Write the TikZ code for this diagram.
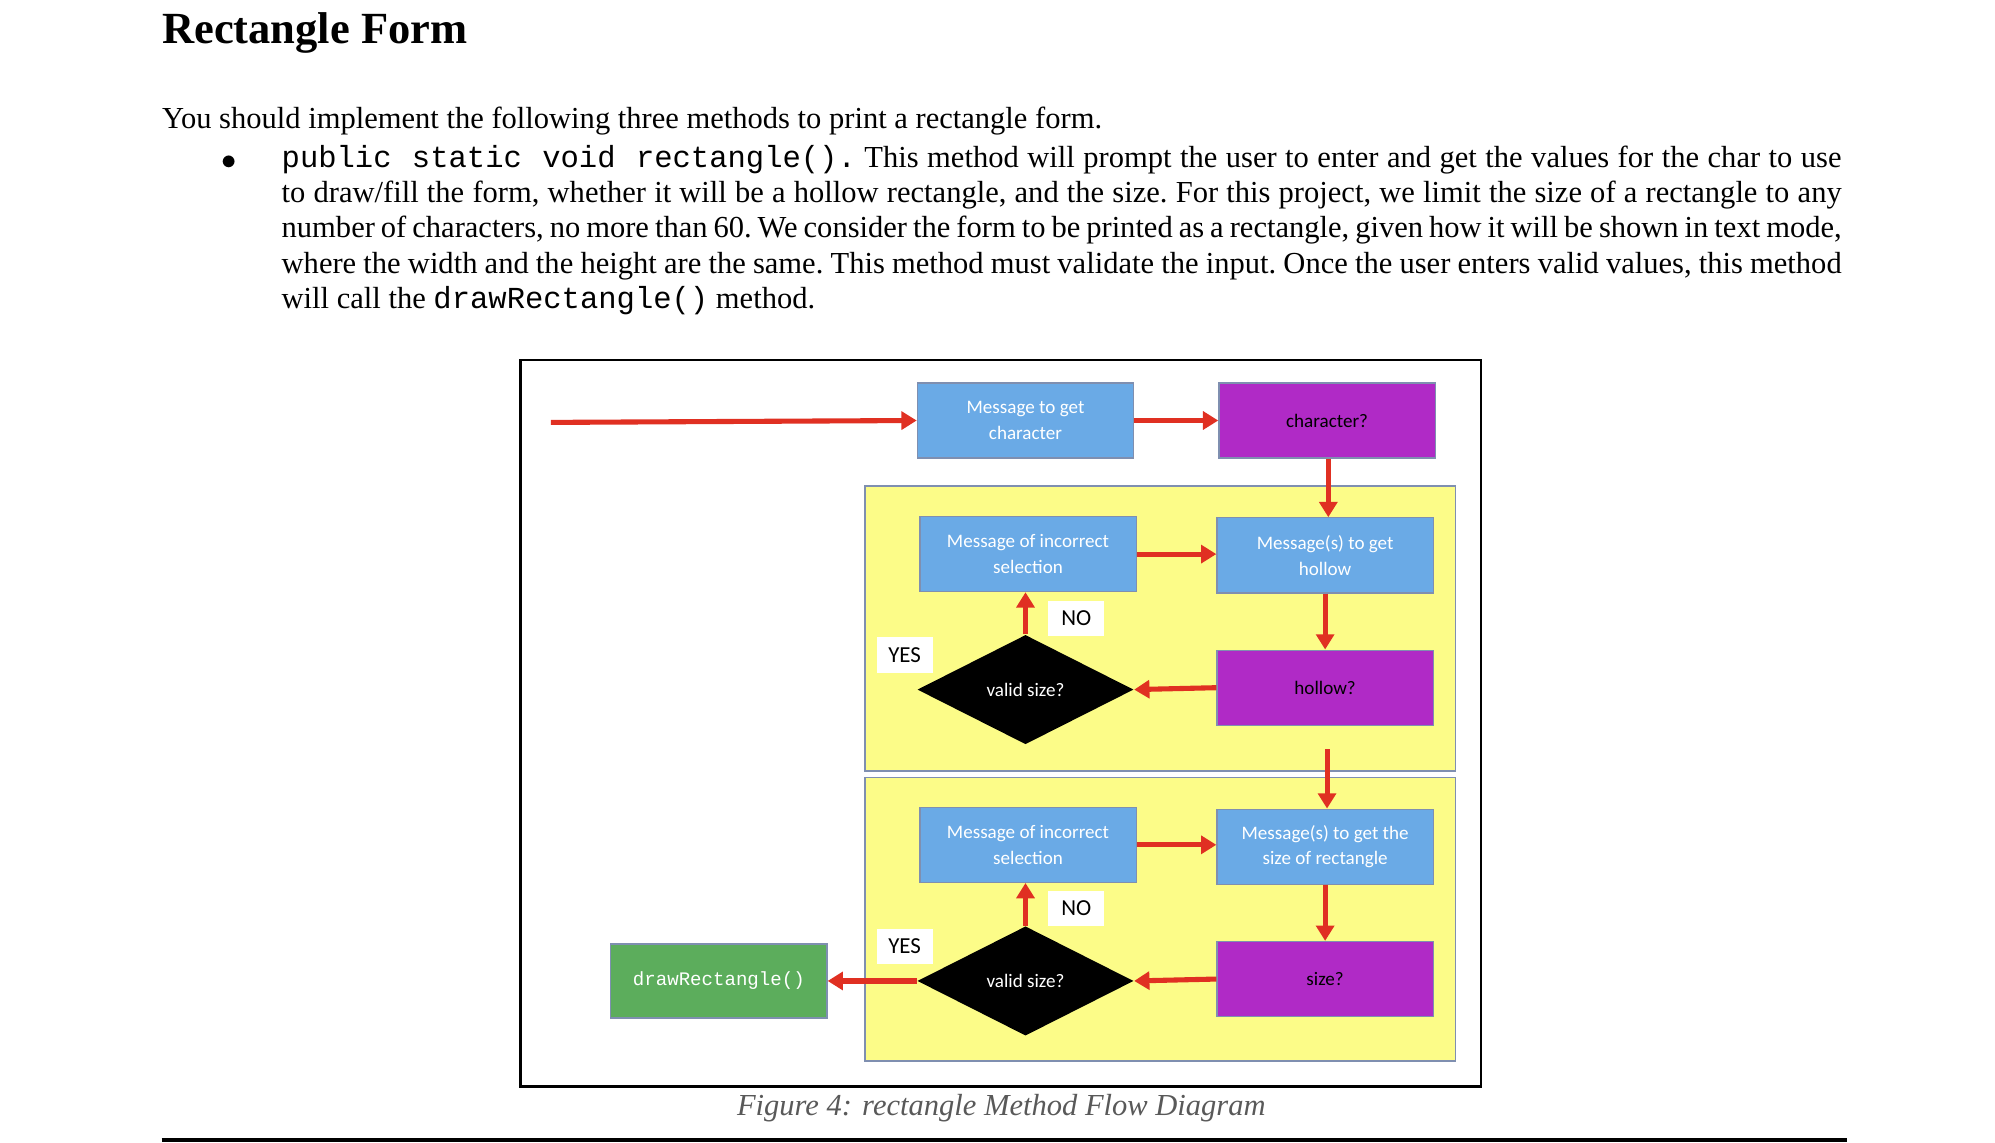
\documentclass[tikz,border=0pt]{standalone}
\usepackage{fontspec}
\setmainfont{Liberation Serif}
\newfontfamily\calib{Carlito}
\newfontfamily\cour{Liberation Mono}
\usetikzlibrary{shapes.geometric,arrows.meta}
\definecolor{bx}{HTML}{6AAAE6}
\definecolor{pp}{HTML}{B02AC6}
\definecolor{yl}{HTML}{FCFC88}
\definecolor{gr}{HTML}{5CAD5C}
\definecolor{rd}{HTML}{E03022}
\definecolor{pb}{HTML}{7F8FB0}
\begin{document}
\begin{tikzpicture}[x=0.5pt,y=-0.5pt,
 blue/.style={draw=pb,line width=0.5pt,fill=bx,text=white,font=\calib\fontsize{7.5}{10}\selectfont,align=center,minimum width=85pt,minimum height=29.5pt,inner sep=1pt},
 purp/.style={draw=pb,line width=0.5pt,fill=pp,text=black,font=\calib\fontsize{7.5}{9}\selectfont,minimum width=85pt,minimum height=29.5pt},
 dia/.style={diamond,fill=black,text=white,font=\calib\fontsize{7.5}{9}\selectfont,minimum width=85pt,minimum height=43pt,inner sep=0pt,aspect=2},
 lab/.style={fill=white,font=\calib\fontsize{9}{10}\selectfont,minimum width=22pt,minimum height=14pt,inner sep=1pt},
 panel/.style={draw=pb,line width=0.6pt,fill=yl},
 arr/.style={draw=rd,line width=2pt,-{Triangle[length=6pt,width=7pt]}}]
\useasboundingbox (0,0) rectangle (1568,898);
\node[anchor=base west,font=\fontsize{17.5}{20}\selectfont\bfseries,inner sep=0] (title) at (127,34) {Rectangle Form};
\node[anchor=base west,font=\fontsize{12}{13.5}\selectfont,inner sep=0] (intro) at (127,101) {You should implement the following three methods to print a rectangle form.};
\node[anchor=base,font=\fontsize{12}{13.5}\selectfont,inner sep=0] (bul) at (180,133) {$\bullet$};
\node[anchor=north west,inner sep=0,text width=613pt,align=justify,font=\fontsize{12}{13.8}\selectfont] (par) at (221,114) {\frenchspacing{\cour public static void rectangle().} This method will prompt the user to enter and get the values for the char to use to draw/fill the form, whether it will be a hollow rectangle, and the size. For this project, we limit the size of a rectangle to any number of characters, no more than 60. We consider the form to be printed as a rectangle, given how it will be shown in text mode,\linebreak where the width and the height are the same. This method must validate the input. Once the user enters valid values, this method\linebreak will call the {\cour drawRectangle()} method.};
\draw[line width=1pt] (409,283) rectangle (1164,854);
\node[font=\fontsize{12}{13}\selectfont\itshape,text=black!65] (cap) at (787,871) {Figure 4: rectangle Method Flow Diagram};
\draw[line width=1.2pt] (127,896) -- (1452,896);
\draw[panel] (680,382) rectangle (1144,606);
\draw[panel] (680,611) rectangle (1144,834);
\coordinate (start) at (433,332);
\node[blue] (m1) at (806,330.5) {Message to get\\character};
\node[purp] (c1) at (1043,330.5) {character?};
\node[blue] (i1) at (808,435.5) {Message of incorrect\\selection};
\node[blue] (h1) at (1041.5,436.5) {Message(s) to get\\hollow};
\node[purp] (h2) at (1041.5,540.5) {hollow?};
\node[dia] (d1) at (806,542) {valid size?};
\node[lab] (no1) at (846,486) {NO};
\node[lab] (yes1) at (711,515) {YES};
\node[blue] (i2) at (808,664) {Message of incorrect\\selection};
\node[blue] (s1) at (1041.5,665.5) {Message(s) to get the\\size of rectangle};
\node[purp] (s2) at (1041.5,769.5) {size?};
\node[dia] (d2) at (806,771) {valid size?};
\node[lab] (no2) at (846,714) {NO};
\node[lab] (yes2) at (711,744) {YES};
\node[draw=pb,line width=0.5pt,fill=gr,text=white,font=\cour\fontsize{7.5}{9}\selectfont,minimum width=85pt,minimum height=29pt] (dr) at (565,771) {drawRectangle()};
\coordinate (p1) at (1043,589);
\draw[arr] (start) -- (m1.west);
\draw[arr] (m1.east) -- (c1.west);
\draw[arr] (c1.south -| 1044,0) -- (h1.north -| 1044,0);
\draw[arr] (i1.east) -- (h1.west |- i1.east);
\draw[arr] (h1) -- (h2);
\draw[arr] (h2.west) -- (d1.east);
\draw[arr] (d1.north) -- (i1.south -| d1.north);
\draw[arr] (p1) -- (s1.north -| p1);
\draw[arr] (i2.east) -- (s1.west |- i2.east);
\draw[arr] (s1) -- (s2);
\draw[arr] (s2.west) -- (d2.east);
\draw[arr] (d2.north) -- (i2.south -| d2.north);
\draw[arr] (d2.west) -- (dr.east);
\end{tikzpicture}
\end{document}
